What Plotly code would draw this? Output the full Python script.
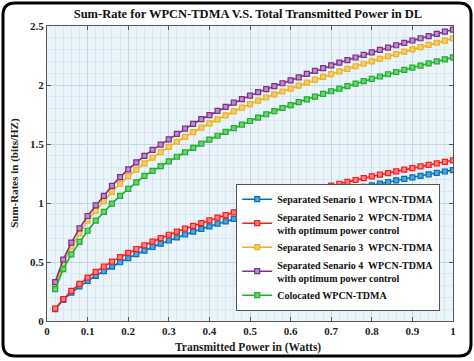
import plotly.graph_objects as go

power = [round(0.02 * k, 2) for k in range(1, 51)]

sc1 = [0.10, 0.178, 0.24, 0.293, 0.34, 0.383, 0.423, 0.461, 0.498, 0.533,
       0.566, 0.597, 0.627, 0.655, 0.682, 0.708, 0.733, 0.757, 0.78, 0.802,
       0.824, 0.845, 0.865, 0.885, 0.904, 0.923, 0.942, 0.96, 0.978, 0.995,
       1.012, 1.029, 1.045, 1.061, 1.077, 1.092, 1.107, 1.122, 1.136, 1.15,
       1.164, 1.178, 1.191, 1.204, 1.217, 1.23, 1.243, 1.255, 1.267, 1.279]

sc2 = [0.105, 0.185, 0.255, 0.315, 0.368, 0.417, 0.462, 0.503, 0.541, 0.577,
       0.61, 0.642, 0.673, 0.703, 0.731, 0.757, 0.782, 0.806, 0.83, 0.853,
       0.876, 0.898, 0.92, 0.941, 0.962, 0.982, 1.002, 1.022, 1.041, 1.06,
       1.078, 1.096, 1.113, 1.13, 1.147, 1.163, 1.179, 1.195, 1.21, 1.225,
       1.24, 1.254, 1.268, 1.282, 1.296, 1.31, 1.323, 1.336, 1.349, 1.362]

sc3 = [0.30, 0.49, 0.63, 0.745, 0.85, 0.935, 1.015, 1.095, 1.165, 1.227,
       1.283, 1.336, 1.385, 1.431, 1.476, 1.519, 1.561, 1.60, 1.638, 1.674,
       1.709, 1.743, 1.776, 1.808, 1.838, 1.867, 1.894, 1.92, 1.945, 1.97,
       1.995, 2.02, 2.045, 2.069, 2.092, 2.115, 2.137, 2.159, 2.18, 2.201,
       2.222, 2.242, 2.262, 2.282, 2.302, 2.321, 2.34, 2.358, 2.376, 2.394]

sc4 = [0.33, 0.52, 0.665, 0.785, 0.89, 0.98, 1.06, 1.145, 1.22, 1.285,
       1.345, 1.40, 1.45, 1.495, 1.54, 1.585, 1.63, 1.67, 1.71, 1.745,
       1.78, 1.815, 1.85, 1.88, 1.91, 1.94, 1.965, 1.99, 2.015, 2.04,
       2.065, 2.095, 2.12, 2.143, 2.166, 2.189, 2.211, 2.233, 2.255, 2.276,
       2.297, 2.317, 2.337, 2.357, 2.377, 2.396, 2.415, 2.434, 2.452, 2.47]

colo = [0.27, 0.44, 0.565, 0.67, 0.765, 0.85, 0.925, 0.995, 1.06, 1.12,
        1.175, 1.23, 1.272, 1.312, 1.352, 1.392, 1.43, 1.468, 1.503, 1.537,
        1.57, 1.602, 1.634, 1.665, 1.695, 1.724, 1.752, 1.779, 1.805, 1.83,
        1.855, 1.879, 1.902, 1.925, 1.947, 1.969, 1.99, 2.011, 2.032, 2.052,
        2.072, 2.091, 2.11, 2.129, 2.147, 2.165, 2.183, 2.2, 2.217, 2.234]

names = [
    "<b>Separated Senario 1  WPCN-TDMA</b>",
    "<b>Separated Senario 2  WPCN-TDMA<br>with optimum power control</b>",
    "<b>Separated Senario 3  WPCN-TDMA</b>",
    "<b>Separated Senario 4  WPCN-TDMA<br>with optimum power control</b>",
    "<b>Colocated WPCN-TDMA</b>",
]
series = [sc1, sc2, sc3, sc4, colo]
colors = ["#0072BD", "#FF1A1A", "#EDB120", "#7E2F8E", "#1DB02A"]
fills = ["#5a9fd6", "#ff8080", "#f3cc70", "#b88cc4", "#6bd070"]

fig = go.Figure()
for name, ys, c, fc in zip(names, series, colors, fills):
    fig.add_trace(go.Scatter(
        x=power, y=ys, name=name, mode="lines+markers",
        line=dict(color=c, width=1.6),
        marker=dict(symbol="square", size=5, color=fc, line=dict(color=c, width=1.2)),
    ))

font_family = "Liberation Serif, Times New Roman, serif"

fig.update_layout(
    width=474, height=361,
    margin=dict(l=47, r=21, t=26, b=40, autoexpand=False),
    paper_bgcolor="white",
    plot_bgcolor="#eaf4fb",
    font=dict(family=font_family, color="#222222", size=11),
    title=dict(text="<b>Sum-Rate for WPCN-TDMA V.S. Total Transmitted Power in DL</b>",
               x=0.523, xanchor="center", y=0.962, yanchor="middle",
               font=dict(size=12.5, color="#111111", family=font_family)),
    showlegend=True,
    legend=dict(x=0.466, y=0.035, xanchor="left", yanchor="bottom",
                bgcolor="white", bordercolor="#555555", borderwidth=1,
                font=dict(size=10, color="#111111", family=font_family),
                tracegroupgap=0, itemwidth=30),
)

fig.update_xaxes(
    range=[0, 1], dtick=0.1, tickformat="~g", automargin=False,
    tickfont=dict(size=11, family=font_family, color="#222222"),
    ticks="inside", ticklen=4, tickcolor="#555555",
    showline=True, linecolor="#555555", linewidth=1, mirror="ticks",
    showgrid=True, gridcolor="#c8d6e0", gridwidth=1, zeroline=False,
    minor=dict(dtick=0.02, showgrid=True, gridcolor="#dbe6ee", gridwidth=0.6),
    tickprefix="<b>", ticksuffix="</b>",
)
fig.update_yaxes(
    range=[0, 2.5], dtick=0.5, tickformat="~g", automargin=False,
    tickfont=dict(size=11, family=font_family, color="#222222"),
    ticks="inside", ticklen=4, tickcolor="#555555",
    showline=True, linecolor="#555555", linewidth=1, mirror="ticks",
    showgrid=True, gridcolor="#c8d6e0", gridwidth=1, zeroline=False,
    minor=dict(dtick=0.1, showgrid=True, gridcolor="#dbe6ee", gridwidth=0.6),
    tickprefix="<b>", ticksuffix="</b>",
)

# axis titles placed as annotations
fig.add_annotation(text="<b>Transmitted Power in (Watts)</b>", xref="paper", yref="paper",
                   x=0.495, y=-0.0915, xanchor="center", yanchor="middle", showarrow=False,
                   font=dict(size=11.5, family=font_family, color="#222222"))
fig.add_annotation(text="<b>Sum-Rates in (bits/HZ)</b>", xref="paper", yref="paper",
                   x=-0.079, y=0.502, xanchor="center", yanchor="middle", showarrow=False,
                   textangle=-90,
                   font=dict(size=11, family=font_family, color="#222222"))

# rounded frame around the whole figure
pw, ph = 406.0, 295.0
def px(x):
    return (x - 47.0) / pw
def py(y):
    return (321.0 - y) / ph
L, R, T, B, rad = 3, 471, 3, 356, 12
path = (f"M {px(L+rad)},{py(T)} L {px(R-rad)},{py(T)} Q {px(R)},{py(T)} {px(R)},{py(T+rad)} "
        f"L {px(R)},{py(B-rad)} Q {px(R)},{py(B)} {px(R-rad)},{py(B)} "
        f"L {px(L+rad)},{py(B)} Q {px(L)},{py(B)} {px(L)},{py(B-rad)} "
        f"L {px(L)},{py(T+rad)} Q {px(L)},{py(T)} {px(L+rad)},{py(T)} Z")
fig.add_shape(type="path", path=path, xref="paper", yref="paper",
              line=dict(color="black", width=3), fillcolor="rgba(0,0,0,0)", layer="above")

fig.write_html("out.html", config={"displayModeBar": False},
               post_script="document.body.style.margin='0';document.body.style.overflow='hidden';")
